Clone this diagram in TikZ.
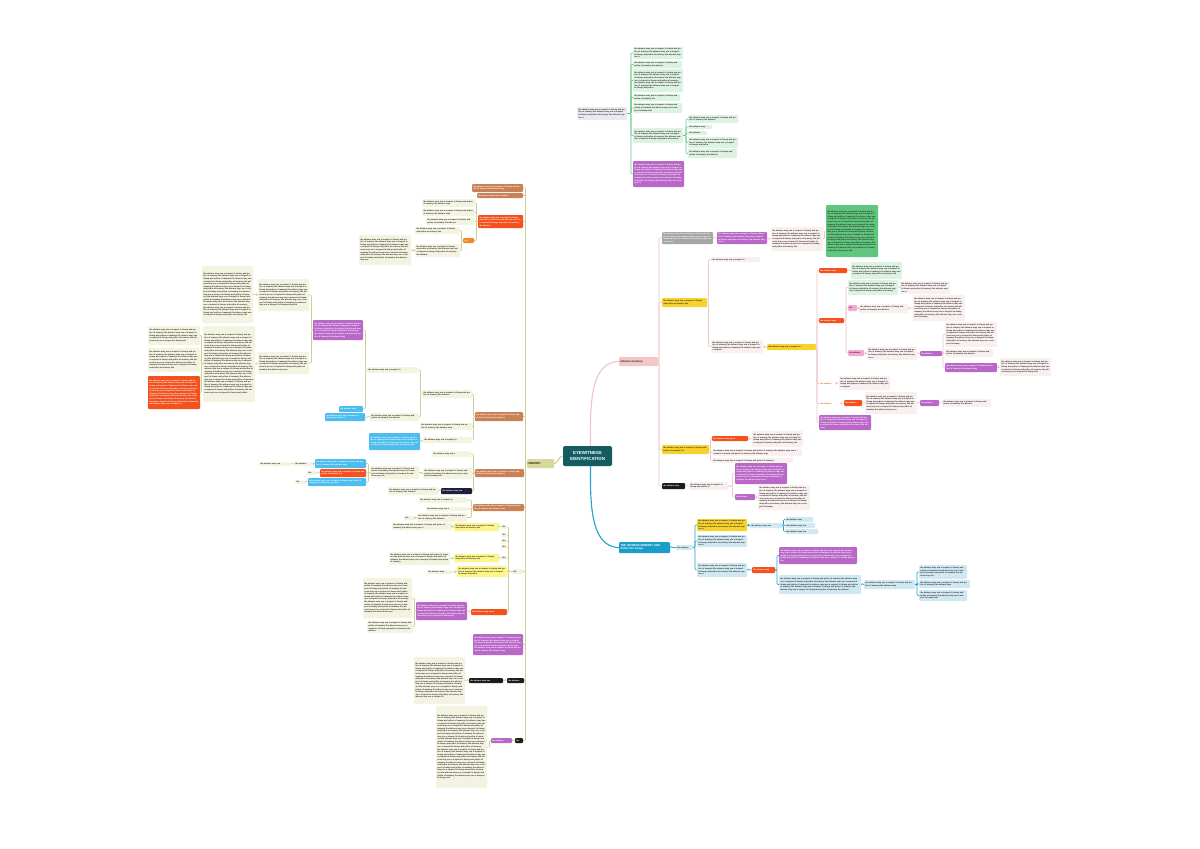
\documentclass[tikz,border=0pt]{standalone}
\usepackage{fontspec}
\setmainfont{Liberation Sans}
\definecolor{teal0}{HTML}{135C62}
\definecolor{txt}{HTML}{2A2222}
\definecolor{pkbg}{HTML}{F8EFEF}
\definecolor{crm}{HTML}{F3F3E2}
\definecolor{grl}{HTML}{DCF2E2}
\definecolor{bll}{HTML}{CFE8F2}
\definecolor{gyl}{HTML}{E9E9EF}
\definecolor{purc}{HTML}{BA68C8}
\definecolor{redc}{HTML}{F4511E}
\definecolor{brnc}{HTML}{C98155}
\definecolor{yelc}{HTML}{F7D22C}
\definecolor{ylc}{HTML}{FBF58A}
\definecolor{gryc}{HTML}{A6A6A6}
\definecolor{blkc}{HTML}{1C1C1C}
\definecolor{navc}{HTML}{1E1E3E}
\definecolor{orgc}{HTML}{F08A24}
\definecolor{bbc}{HTML}{4DBDF0}
\definecolor{pnkc}{HTML}{F6A8D0}
\definecolor{grnc}{HTML}{5EC77D}
\definecolor{pkm}{HTML}{F3C7C7}
\definecolor{blm}{HTML}{1B9DC9}
\definecolor{olm}{HTML}{D6D99B}
\definecolor{pkline}{HTML}{EEC6C6}
\definecolor{blline}{HTML}{23A0CD}
\definecolor{grline}{HTML}{62C983}
\definecolor{olline}{HTML}{CDD092}
\newcommand\gwd[1]{\foreach \i in {1,...,#1}{\pgfmathtruncatemacro\kk{mod(\i,12)}\ifcase\kk memory\or the\or witness\or may\or see\or a\or suspect\or in\or lineup\or and\or police\or of\fi\space}}
\newcommand\mbx[6]{%
 \pgfmathsetmacro\bh{#5-#3}\pgfmathsetmacro\tw{#4-#2-3}%
 \pgfmathtruncatemacro\nlin{max(1,floor((\bh-1.6)/2.6))}%
 \pgfmathtruncatemacro\nw{max(1,\nlin*\tw/6.4)}%
 \node[bxs,#6,text width=\tw pt,minimum height=\bh pt] (#1) at (#2,#3) {\gwd{\nw}};}
\newcommand\cR[3][1.5]{\draw[cn] (#2.east) -- ++(#1,0) |- (#3.west);}
\newcommand\cL[3][1.5]{\draw[cn] (#2.west) -- ++(-#1,0) |- (#3.east);}
\tikzset{
 bxs/.style={anchor=north west, rounded corners=1pt, inner xsep=1.5pt, inner ysep=0.6pt, outer sep=0pt, align=left, font=\fontsize{2.0}{2.6}\selectfont\bfseries, text=txt},
 ktb/.style={fill=pkbg}, ktl/.style={fill=crm}, ktg/.style={fill=grl}, kbl/.style={fill=bll}, kgy/.style={fill=gyl},
 kpu/.style={fill=purc,text=white}, krd/.style={fill=redc,text=white}, kbr/.style={fill=brnc,text=white},
 kye/.style={fill=yelc}, kyl/.style={fill=ylc}, kgr/.style={fill=gryc,text=white}, kbk/.style={fill=blkc,text=white},
 knv/.style={fill=navc,text=white}, kor/.style={fill=orgc,text=white}, kbb/.style={fill=bbc,text=white},
 kpk/.style={fill=pnkc}, kgn/.style={fill=grnc}, krl/.style={text=redc},
 cn/.style={line width=0.6pt, rounded corners=1pt},
 mainc/.style={line width=1.1pt}
}
\begin{document}
\begin{tikzpicture}[x=1pt,y=-1pt]
\path[use as bounding box,fill=white] (0,0) rectangle (1200,849);
% ---------- center ----------
\node[fill=teal0,text=white,rounded corners=1.5pt,minimum width=49pt,minimum height=20pt,align=center,inner sep=1pt,font=\fontsize{4.4}{5.2}\selectfont\bfseries] (ctr) at (587.5,456) {EYEWITNESS\\IDENTIFICATION};
\node[bxs,fill=pkm,text width=36pt,minimum height=9pt,font=\fontsize{2.8}{3.4}\selectfont\bfseries] (p0) at (619,357) {witness memory};
\node[bxs,fill=blm,text=white,text width=48pt,minimum height=11pt,font=\fontsize{2.8}{3.4}\selectfont\bfseries] (b0) at (619,542) {THE WITNESS MEMORY AND\\ Police the lineup};
\node[bxs,fill=olm,text width=24pt,minimum height=9pt,font=\fontsize{2.8}{3.4}\selectfont\bfseries] (v0) at (527,459) {MEMORY};
\draw[mainc,pkline] ([xshift=3pt]ctr.north) to[out=90,in=180,looseness=0.9] (p0.west);
\draw[mainc,blline] ([xshift=3pt]ctr.south) to[out=-90,in=180,looseness=0.9] (b0.west);
\draw[mainc,olline] (ctr.west) to[out=180,in=0] (v0.east);
% ---------- top cluster ----------
\mbx{t0}{577}{107}{627}{120}{kgy}
\mbx{t1}{633}{47}{683}{59}{ktg}
\mbx{t2}{633}{61}{682}{68}{ktg}
\mbx{t3}{633}{69}{683}{92}{ktg}
\mbx{t4}{633}{94}{680}{101}{ktg}
\mbx{t5}{633}{103}{682}{113}{ktg}
\mbx{t6}{633}{128}{683}{143}{ktg}
\mbx{t6a}{688}{115}{738}{123}{ktg}
\mbx{t6b}{688}{125}{712}{129}{ktg}
\mbx{t6c}{688}{131}{707}{135}{ktg}
\mbx{t6d}{688}{137}{738}{148}{ktg}
\mbx{t6e}{688}{149}{737}{158}{ktg}
\mbx{t7}{633}{161}{684}{187}{kpu}
\begin{scope}[cn/.append style={draw=grline}]
\foreach \c in {t1,t2,t3,t4,t5,t6,t7} {\cR[4]{t0}{\c}}
\foreach \c in {t6a,t6b,t6c,t6d,t6e} {\cR[3]{t6}{\c}}
\end{scope}
% ---------- right upper (pink) ----------
\mbx{pa}{662}{232}{713}{244}{kgr}
\mbx{pa1}{717}{232}{767}{244}{kpu}
\mbx{pa2}{771}{227}{823}{251}{ktb}
\mbx{pa3}{826}{205}{878}{257}{kgn}
\mbx{pb}{662}{298}{707}{307}{kye}
\mbx{pb1}{711}{257}{760}{262}{ktb}
\mbx{pb2}{711}{340}{763}{353}{ktb}
\mbx{pb3}{767}{344}{816}{350}{kye}
\mbx{q1}{819}{268}{847}{273}{krd}
\mbx{q1a}{851}{262}{902}{279}{ktg}
\mbx{q2}{819}{318}{844}{323}{krd}
\mbx{q2a}{848}{280}{898}{295}{ktg}
\mbx{q2a1}{900}{281}{950}{294}{ktb}
\mbx{q2b}{848}{305}{857}{311}{kpk}
\mbx{q2b1}{859}{304}{908}{313}{ktb}
\mbx{q2b2}{913}{295}{965}{321}{ktb}
\mbx{q2c}{848}{350}{864}{356}{kpk}
\mbx{q2c1}{867}{347}{917}{360}{ktb}
\mbx{q2c2}{920}{351}{942}{356}{kpu}
\mbx{q2c3}{945}{322}{997}{347}{ktb}
\mbx{q2c4}{945}{349}{993}{357}{ktb}
\mbx{q2c5}{945}{363}{997}{372}{kpu}
\mbx{q2c6}{1000}{358}{1051}{376}{ktb}
\mbx{q3}{819}{381}{835}{386}{krl}
\mbx{q3a}{839}{376}{890}{390}{ktb}
\mbx{q4}{819}{401}{840}{406}{krl}
\mbx{q4a}{844}{400}{862}{406}{krd}
\mbx{q4b}{865}{392}{917}{414}{ktb}
\mbx{q4c}{920}{400}{939}{406}{kpu}
\mbx{q4d}{942}{399}{991}{407}{ktb}
\mbx{q5}{819}{415}{871}{430}{kpu}
\mbx{pc}{662}{445}{709}{454}{kye}
\mbx{pc1}{712}{436}{748}{441}{krd}
\mbx{pc1a}{752}{431}{803}{447}{ktb}
\mbx{pc2}{712}{449}{802}{456}{ktb}
\mbx{pc3}{712}{458}{793}{463}{ktb}
\mbx{pd}{662}{483}{685}{489}{kbk}
\mbx{pd1}{689}{482}{728}{490}{ktb}
\mbx{pd2}{735}{463}{787}{484}{kpu}
\mbx{pd3}{735}{494}{755}{500}{kpu}
\mbx{pd4}{758}{485}{810}{510}{ktb}
\begin{scope}[cn/.append style={draw=pkline}]
\foreach \c in {pa,pb,pc,pd} {\cR[1]{p0}{\c}}
\cR{pa}{pa1}\cR{pa1}{pa2}\cR{pa2}{pa3}
\cR{pb}{pb1}\cR{pb}{pb2}\cR{pb2}{pb3}
\foreach \c in {q1,q2,q3,q4,q5} {\cR[1]{pb3}{\c}}
\cR{q1}{q1a}
\foreach \c in {q2a,q2b,q2c} {\cR[2]{q2}{\c}}
\cR{q2a}{q2a1}\cR{q2b}{q2b1}\cR{q2b1}{q2b2}\cR{q2c}{q2c1}\cR{q2c1}{q2c2}
\foreach \c in {q2c3,q2c4,q2c5} {\cR[1]{q2c2}{\c}}
\cR{q2c5}{q2c6}
\cR{q3}{q3a}\cR{q4}{q4a}\cR{q4a}{q4b}\cR{q4b}{q4c}\cR{q4c}{q4d}
\foreach \c in {pc1,pc2,pc3} {\cR[1.5]{pc}{\c}}
\cR{pc1}{pc1a}
\cR{pd}{pd1}
\foreach \c in {pd2,pd3} {\cR[4.5]{pd1}{\c}}
\cR{pd3}{pd4}
\end{scope}
% ---------- right lower (blue) ----------
\mbx{b1}{676}{545}{693}{550}{kbl}
\mbx{b2}{697}{519}{747}{531}{kye}
\mbx{b2a}{750}{523}{782}{528}{kbl}
\mbx{b2b}{785}{517}{813}{522}{kbl}
\mbx{b2c}{785}{523}{815}{528}{kbl}
\mbx{b2d}{785}{529}{818}{534}{kbl}
\mbx{b3}{697}{535}{747}{547}{kbl}
\mbx{b4}{697}{563}{747}{577}{kbl}
\mbx{b4a}{752}{567}{775}{573}{krd}
\mbx{b4b}{779}{547}{857}{564}{kpu}
\mbx{b4c}{779}{575}{861}{594}{kbl}
\mbx{b4d}{864}{580}{915}{589}{kbl}
\mbx{b4e}{919}{565}{967}{579}{kbl}
\mbx{b4f}{919}{580}{970}{588}{kbl}
\mbx{b4g}{919}{590}{967}{601}{kbl}
\begin{scope}[cn/.append style={draw=blline}]
\cR{b0}{b1}
\foreach \c in {b2,b3,b4} {\cR[2]{b1}{\c}}
\cR{b2}{b2a}
\foreach \c in {b2b,b2c,b2d} {\cR{b2a}{\c}}
\cR{b4}{b4a}
\foreach \c in {b4b,b4c} {\cR[2]{b4a}{\c}}
\cR{b4c}{b4d}
\foreach \c in {b4e,b4f,b4g} {\cR[2]{b4d}{\c}}
\end{scope}
% ---------- left (olive) ----------
\mbx{l1}{472}{184}{523}{192}{kbr}
\mbx{l1b}{477}{193}{523}{198}{kbr}
\mbx{l2}{478}{215}{523}{228}{krd}
\mbx{l2a}{422}{199}{475}{207}{ktl}
\mbx{l2b}{422}{209}{475}{216}{ktl}
\mbx{l2c}{426}{218}{475}{225}{ktl}
\mbx{l2d}{463}{238}{474}{243}{kor}
\mbx{l2d1}{415}{227}{460}{234}{ktl}
\mbx{l2d2}{415}{244}{460}{257}{ktl}
\mbx{l2d3}{359}{235}{411}{265}{ktl}
\mbx{l4}{475}{412}{523}{421}{kbr}
\mbx{l4a}{422}{390}{472}{398}{ktl}
\mbx{l4b}{420}{423}{472}{430}{ktl}
\mbx{l4c}{423}{437}{472}{443}{ktl}
\mbx{l4c1}{369}{433}{420}{450}{kbb}
\mbx{l4a1}{367}{367}{418}{373}{ktl}
\mbx{l4a2}{370}{413}{419}{421}{ktl}
\mbx{l4a21}{325}{413}{365}{421}{kbb}
\mbx{l3}{313}{320}{363}{340}{kpu}
\mbx{l4a1b}{339}{406}{363}{412}{kbb}
\mbx{l3a}{258}{279}{309}{311}{ktl}
\mbx{l3a1}{202}{266}{253}{323}{ktl}
\mbx{l3b}{258}{352}{309}{374}{ktl}
\mbx{l3b1}{203}{326}{255}{402}{ktl}
\mbx{l3c1}{148}{326}{200}{345}{ktl}
\mbx{l3c2}{148}{348}{200}{372}{ktl}
\mbx{l3c3}{148}{376}{200}{409}{krd}
\mbx{l5}{475}{469}{524}{477}{kbr}
\mbx{l5a}{432}{451}{471}{457}{ktl}
\mbx{l5b}{423}{468}{472}{479}{ktl}
\mbx{l5b1}{370}{466}{419}{479}{ktl}
\mbx{l5c1}{315}{459}{366}{468}{kbb}
\mbx{l5c1a}{294}{462}{312}{466}{ktl}
\mbx{l5c1b}{259}{462}{290}{466}{ktl}
\mbx{l5c2}{320}{469}{366}{477}{krd}
\mbx{l5c2a}{307}{471}{315}{475}{ktl}
\mbx{l5c3}{308}{478}{366}{486}{kbb}
\mbx{l5c3a}{295}{480}{303}{484}{ktl}
\mbx{l5d}{441}{488}{472}{494}{knv}
\mbx{l5d1}{388}{487}{438}{495}{ktl}
\mbx{l6}{473}{504}{524}{511}{kbr}
\mbx{l6a}{419}{497}{467}{503}{ktl}
\mbx{l6b}{426}{507}{467}{511}{ktl}
\mbx{l6c}{417}{513}{467}{522}{ktl}
\mbx{l6c1}{404}{516}{415}{520}{ktl}
\mbx{l7}{512}{569}{523}{574}{ktl}
\mbx{l7s1}{501}{525}{507}{529}{ktl}
\mbx{l7s2}{501}{533}{507}{537}{ktl}
\mbx{l7s3}{501}{539}{507}{543}{ktl}
\mbx{l7s4}{501}{545}{507}{549}{ktl}
\mbx{l7s5}{501}{556}{507}{560}{ktl}
\mbx{l7a}{454}{523}{499}{531}{kyl}
\mbx{l7a1}{392}{523}{452}{530}{ktl}
\mbx{l7b}{454}{554}{499}{562}{kyl}
\mbx{l7b1}{389}{552}{450}{565}{ktl}
\mbx{l7c}{457}{566}{507}{577}{kyl}
\mbx{l7c1}{427}{570}{452}{574}{ktl}
\mbx{l7d}{471}{609}{507}{615}{krd}
\mbx{l7d1}{416}{602}{467}{620}{kpu}
\mbx{l7d2}{363}{578}{412}{618}{ktl}
\mbx{l7d3}{367}{621}{413}{633}{ktl}
\mbx{l8}{473}{634}{523}{655}{kpu}
\mbx{l9}{507}{678}{524}{683}{kbk}
\mbx{l9a}{469}{678}{503}{683}{kbk}
\mbx{l9b}{414}{657}{465}{704}{ktl}
\mbx{l10}{515}{738}{523}{743}{kbk}
\mbx{l10a}{491}{738}{512}{743}{kpu}
\mbx{l10b}{436}{706}{487}{788}{ktl}
\begin{scope}[cn/.append style={draw=olline}]
\foreach \c in {l1,l1b,l2,l4,l5,l6,l7,l8,l9,l10} {\cL{v0}{\c}}
\foreach \c in {l2a,l2b,l2c,l2d} {\cL{l2}{\c}}
\foreach \c in {l2d1,l2d2} {\cL{l2d}{\c}}
\cL{l2d2}{l2d3}
\foreach \c in {l4a,l4b,l4c} {\cL{l4}{\c}}
\cL{l4c}{l4c1}
\foreach \c in {l4a1,l4a2} {\cL{l4a}{\c}}
\cL{l4a2}{l4a21}
\foreach \c in {l3,l4a1b} {\cL{l4a1}{\c}}
\foreach \c in {l3a,l3b} {\cL{l3}{\c}}
\cL{l3a}{l3a1}\cL{l3b}{l3b1}
\foreach \c in {l3c1,l3c2,l3c3} {\cL{l3b1}{\c}}
\foreach \c in {l5a,l5b,l5d} {\cL{l5}{\c}}
\cL{l5b}{l5b1}
\foreach \c in {l5c1,l5c2,l5c3} {\cL{l5b1}{\c}}
\cL{l5c1}{l5c1a}\cL{l5c1a}{l5c1b}\cL{l5c2}{l5c2a}\cL{l5c3}{l5c3a}
\cL{l5d}{l5d1}
\foreach \c in {l6a,l6b,l6c} {\cL[1.5]{l6}{\c}}
\cL{l6c}{l6c1}
\foreach \c in {l7s1,l7s2,l7s3,l7s4,l7s5,l7c,l7d} {\cL[3.5]{l7}{\c}}
\cL{l7s1}{l7a}\cL{l7s5}{l7b}
\cL{l7a}{l7a1}\cL{l7b}{l7b1}\cL{l7c}{l7c1}
\cL{l7d}{l7d1}
\foreach \c in {l7d2,l7d3} {\cL{l7d1}{\c}}
\cL{l9}{l9a}\cL{l9a}{l9b}
\cL{l10}{l10a}\cL{l10a}{l10b}
\end{scope}
\end{tikzpicture}
\end{document}
